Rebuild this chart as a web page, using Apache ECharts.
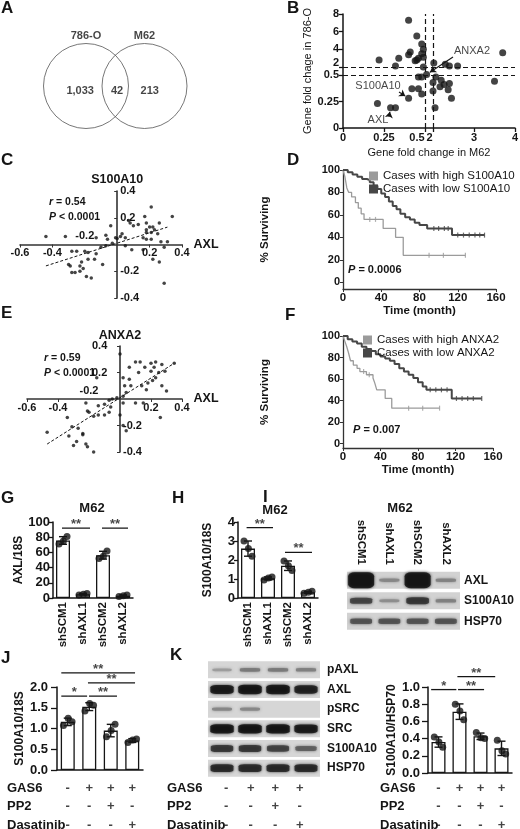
<!DOCTYPE html>
<html>
<head>
<meta charset="utf-8">
<script src="https://cdn.jsdelivr.net/npm/echarts@6.0.0/dist/echarts.min.js"></script>
<style>
html,body{margin:0;padding:0;background:#ffffff;}
#chart{width:520px;height:829px;}
</style>
</head>
<body>
<div id="chart"></div>
<script>
// ================= DATA =================
// A: Venn
const vennSets = ['786-O', 'M62'];
const vennCounts = [1033, 42, 213]; // 786-O only, both, M62 only

// B: fold changes of the shared genes
const bGenesM62 = [0.40,0.45,0.48,0.49,0.41,0.40,0.48,0.49,0.44,0.45,0.46,0.22,0.34,0.32,0.49,0.46,0.48,0.42,0.46,0.48,0.21,0.32,
                   2.02,2.3,2.4,2.6,3.7,3.5,2.07,2.0,2.2,2.27,2.4,2.17,2.37,2.0,2.45,2.05];
const bGenes786 = [7.3,5.5,4.6,4.0,3.7,3.4,3.5,3.1,2.7,2.8,3.0,2.8,3.0,2.1,2.0,0.48,0.48,0.37,0.37,0.32,0.23,0.19,
                   2.45,2.3,2.1,2.1,3.6,0.44,0.48,0.43,0.45,0.41,0.42,0.39,0.36,0.35,0.28,0.19];
const bLabeled = ['ANXA2','S100A10','AXL'];
const bLabeledM62 = [0.8, 0.40, 0.29];
const bLabeled786 = [0.6, 0.28, 0.19];
const bTickX = [0,0.25,0.5,2,3,4];
const bTickY = [0,0.25,0.5,2,4,6,8];
const bCutoffs = [0.5, 2];

// C: AXL vs S100A10
const axlC = [0.17,0.34,0.07,0.08,0.10,0.13,0.18,0.26,-0.04,0.20,0.22,0.23,0.18,0.18,0.21,0.25,0.16,0.18,0.21,0.31,
              0.27,0.03,0.05,0.02,-0.44,-0.32,-0.13,-0.07,-0.06,-0.01,0.00,-0.28,-0.25,-0.20,-0.18,-0.13,-0.10,-0.07,-0.03,-0.18,
              -0.14,-0.09,-0.22,-0.23,-0.21,-0.26,-0.28,-0.30,-0.29,-0.23,-0.19,-0.16,0.05,0.09,0.16,0.29,0.22,0.26,0.29,0.21];
const s100C = [0.21,0.21,0.18,0.16,0.14,0.15,0.16,0.16,0.14,0.13,0.13,0.11,0.11,0.09,0.09,0.08,0.05,0.04,0.04,0.02,
               0.02,0.08,0.05,0.06,0.06,0.06,0.05,0.07,0.04,0.05,0.045,-0.05,-0.05,-0.05,-0.06,-0.07,-0.02,-0.01,0.01,-0.11,
               -0.11,-0.15,-0.13,-0.16,-0.18,-0.21,-0.21,-0.15,-0.16,-0.20,-0.24,-0.25,-0.01,-0.04,-0.04,-0.02,-0.11,-0.13,-0.29,0.28];
const trendC = [[-0.44,-0.16],[0.31,0.13]];
const statC = {r: 0.54, p: '< 0.0001'};

// E: AXL vs ANXA2
const axlE = [0.00,0.10,0.13,0.20,0.23,0.27,0.16,0.22,0.20,0.25,0.29,0.06,0.12,0.02,0.06,0.03,0.07,0.14,0.18,0.17,
              0.27,0.30,0.23,0.21,0.04,0.02,-0.15,-0.07,-0.05,-0.02,0.35,
              -0.22,-0.14,-0.10,-0.06,0.02,0.10,0.15,-0.34,-0.21,-0.20,-0.17,-0.14,-0.10,-0.07,
              -0.31,-0.27,-0.24,-0.24,-0.33,-0.47,-0.28,-0.30,-0.22,-0.21,-0.17,0.00,0.02,0.04,0.26];
const anxa2E = [0.34,0.28,0.28,0.27,0.28,0.26,0.24,0.24,0.21,0.20,0.21,0.24,0.20,0.16,0.15,0.10,0.10,0.10,0.12,0.07,
                0.10,0.06,0.16,0.14,0.05,0.02,0.16,-0.01,0.00,0.01,0.27,
                -0.03,-0.05,-0.04,-0.06,-0.03,-0.03,-0.03,-0.14,-0.09,-0.10,-0.13,-0.12,-0.12,-0.10,
                -0.21,-0.22,-0.26,-0.27,-0.28,-0.25,-0.32,-0.35,-0.34,-0.36,-0.40,-0.12,-0.20,-0.24,-0.14];
const trendE = [[-0.47,-0.34],[0.35,0.27]];
const statE = {r: 0.59, p: '< 0.0001'};

// D: Kaplan-Meier, S100A10
const kmS100HighT = [0,2,3,4,6,9,13,16,19,22,42,55,63,128];
const kmS100HighS = [100,94,89,84,80,76,71,66,61,56,48,40,24,24];
const kmS100HighCens = [28,34,90,105,128];
const kmS100LowT = [0,5,10,15,20,25,28,32,36,40,44,48,52,56,60,65,70,75,80,88,114,148];
const kmS100LowS = [100,98,96,94,92,91,89,86,83,79,76,72,68,65,61,58,56,53,51,48,42,42];
const kmS100LowCens = [95,100,106,110,120,126,132,138,143,148];
const kmPD = '= 0.0006';

// F: Kaplan-Meier, ANXA2
const kmAnxHighT = [0,2,4,6,8,11,15,18,25,32,34,36,45,52,103];
const kmAnxHighS = [100,95,90,84,77,73,70,67,64,61,56,50,42,33,33];
const kmAnxHighCens = [22,28,70,85,103];
const kmAnxLowT = [0,5,10,15,20,25,30,35,40,45,50,55,60,65,70,75,80,85,89,116,148];
const kmAnxLowS = [100,97,95,93,90,88,86,83,81,79,77,74,70,67,64,61,57,53,50,42,42];
const kmAnxLowCens = [93,99,105,111,121,127,133,139,148];
const kmPF = '= 0.007';

// G, H: M62 knockdown qPCR
const shCats = ['shSCM1','shAXL1','shSCM2','shAXL2'];
const gAxlDots = [[71,75,81],[4,5,6],[52,55,62],[2,3,4]];
const gSig = [[-0.05,1.35,92,'**'],[1.95,3.25,92,'**']];
const hS100Dots = [[3.0,2.6,2.2],[0.95,1.05,1.1],[1.95,1.7,1.45],[0.25,0.3,0.35]];
const hSig = [[-0.07,1.25,3.7,'**'],[1.85,3.2,2.4,'**']];

// I: western blot band intensity (0-1)
const iRows = ['AXL','S100A10','HSP70'];
const iBands = [[1.0,0.3,1.0,0.32],[0.55,0.28,0.6,0.33],[0.5,0.5,0.5,0.5]];

// J, K: treatments
const treatRows = ['GAS6','PP2','Dasatinib'];
const treatGAS6 = [0,1,1,1];
const treatPP2 = [0,0,1,0];
const treatDasatinib = [0,0,0,1];
const jS100Dots = [[1.07,1.25,1.16],[1.42,1.6,1.56],[0.8,0.95,1.1],[0.66,0.72,0.75]];
const jSig = [[-0.3,3.13,2.34,'**'],[0.94,3.13,2.1,'**'],[-0.3,0.9,1.78,'*'],[0.99,2.29,1.78,'**']];
const kRows = ['pAXL','AXL','pSRC','SRC','S100A10','HSP70'];
const kBands = [[0.22,0.35,0.35,0.33],[0.7,0.72,0.72,0.68],[0.3,0.3,0,0],[0.72,0.72,0.72,0.7],[0.6,0.6,0.56,0.45],[0.65,0.65,0.65,0.65]];
const kRatioDots = [[0.42,0.36,0.30],[0.80,0.72,0.62],[0.47,0.41,0.40],[0.38,0.26,0.22]];
const kSig = [[-0.35,0.85,0.97,'*'],[0.93,2.17,0.97,'**'],[0.9,2.7,1.12,'**']];

// ================= BUILD =================
const FONT = 'Arial, "Liberation Sans", Helvetica, sans-serif';
const INK = '#151515';
const grid = [], xAxis = [], yAxis = [], series = [], graphic = [], legend = [];

function addGrid(l, t, w, h) {
  grid.push({left: l, top: t, width: w, height: h, containLabel: false, outerBoundsMode: 'none'});
  return grid.length - 1;
}
function push(arr, o) { arr.push(o); return arr.length - 1; }
const lbl = (size, weight) => ({fontFamily: FONT, fontSize: size, fontWeight: weight || 'bold', color: INK});
const line = (w) => ({color: INK, width: w || 1.3});

function txt(content, x, y, size, o) {
  o = o || {};
  graphic.push({type: 'text', x: x, y: y, z: 100, rotation: o.rot || 0, silent: true,
    style: {text: content, fontFamily: FONT, fontSize: size, fontWeight: o.weight || 'bold', fill: INK,
      align: o.align || 'left', verticalAlign: 'middle',
      rich: {i: {fontStyle: 'italic', fontWeight: 'bold', fontSize: size, fontFamily: FONT, fill: INK}}}});
}

// ---- panel letters & titles
[['A',1,8],['B',287,8],['C',1,160],['D',287,160],['E',1,313],['F',285,315],
 ['G',1,498],['H',172,498],['I',263,497],['J',1,658],['K',170,655]].forEach(a => txt(a[0], a[1], a[2], 17));
txt('M62', 92, 508, 13, {align: 'center'});
txt('M62', 275, 510, 13, {align: 'center'});
txt('M62', 400, 508, 13, {align: 'center'});

// ---- A: Venn
(function () {
  const gi = addGrid(86, 46, 58.5, 80);
  const xi = push(xAxis, {gridIndex: gi, type: 'value', min: 0, max: 1, show: false});
  const yi = push(yAxis, {gridIndex: gi, type: 'value', min: -1, max: 1, show: false});
  series.push({type: 'scatter', xAxisIndex: xi, yAxisIndex: yi, symbol: 'circle', symbolSize: 85, silent: true, clip: false,
    itemStyle: {color: 'rgba(0,0,0,0)', borderColor: '#555', borderWidth: 1},
    label: {show: true, position: 'top', distance: 2, formatter: p => p.data[2], ...lbl(11)},
    data: vennSets.map((s, i) => [i, 0, s])});
  const regionX = [-0.1, 0.53, 1.09];
  series.push({type: 'scatter', xAxisIndex: xi, yAxisIndex: yi, symbolSize: 0, silent: true, clip: false,
    label: {show: true, position: 'inside', formatter: p => p.data[2], ...lbl(11)},
    data: vennCounts.map((c, i) => [regionX[i], -0.12, c.toLocaleString('en-US')])});
})();

// ---- B: fold change scatter (broken axes)
const bx = v => v <= 0.5 ? v * 164 : (v >= 2 ? 90 + (v - 2) * 41 : 82 + (v - 0.5) / 1.5 * 8);
const by = v => v <= 0.5 ? v * 106 : (v >= 2 ? 61 + (v - 2) * 53 / 6 : 53 + (v - 0.5) / 1.5 * 8);
(function () {
  const gi = addGrid(343, 14, 172, 114);
  const tx = bTickX.map(bx), ty = bTickY.map(by);
  const fmt = (ticks, vals, rich) => v => {
    const i = ticks.findIndex(u => Math.abs(u - v) < 1e-6);
    if (i < 0) return '';
    const s = String(vals[i]);
    return rich[s] ? '{' + rich[s] + '|' + s + '}' : s;
  };
  const base = lbl(11);
  const xi = push(xAxis, {gridIndex: gi, type: 'value', min: 0, max: 172, splitLine: {show: false},
    axisLine: {show: true, onZero: false, lineStyle: line(1.5)},
    axisTick: {show: true, length: 4, customValues: tx, lineStyle: line(1.3)},
    axisLabel: {customValues: tx, margin: 4, ...base, formatter: fmt(tx, bTickX, {'0.5': 'a', '2': 'b'}),
      rich: {a: {...base, padding: [0, 16, 0, 0]}, b: {...base, padding: [0, 7, 0, 0]}}},
    name: 'Gene fold change in M62', nameLocation: 'middle', nameGap: 19, nameTextStyle: lbl(11, 'normal')});
  const yi = push(yAxis, {gridIndex: gi, type: 'value', min: 0, max: 114, splitLine: {show: false},
    axisLine: {show: true, onZero: false, lineStyle: line(1.5)},
    axisTick: {show: true, length: 4, customValues: ty, lineStyle: line(1.3)},
    axisLabel: {customValues: ty, margin: 4, ...base, formatter: fmt(ty, bTickY, {'2': 'b'}),
      rich: {b: {...base, padding: [0, 0, 8, 0]}}},
    name: 'Gene fold chage in 786-O', nameLocation: 'middle', nameRotate: 90, nameGap: 25, nameTextStyle: lbl(11, 'normal')});
  series.push({type: 'scatter', xAxisIndex: xi, yAxisIndex: yi, symbolSize: 7, itemStyle: {color: INK}, silent: true,
    data: bGenesM62.map((m, i) => [bx(m), by(bGenes786[i])]),
    markLine: {silent: true, symbol: 'none', animation: false, label: {show: false},
      lineStyle: {color: INK, width: 1.2, type: [5, 3]},
      data: bCutoffs.map(c => ({xAxis: bx(c)})).concat(bCutoffs.map(c => ({yAxis: by(c)})))}});
  // labelled genes with annotation arrows
  const labelPos = [[129, 77], [35, 42], [35, 8]];
  const arrowFrom = [[110, 71], [56, 36], [46, 11]];
  const pts = bLabeled.map((g, i) => [bx(bLabeledM62[i]), by(bLabeled786[i])]);
  series.push({type: 'scatter', xAxisIndex: xi, yAxisIndex: yi, symbolSize: 7, itemStyle: {color: INK}, silent: true,
    data: pts});
  series.push({type: 'scatter', xAxisIndex: xi, yAxisIndex: yi, symbolSize: 0, silent: true,
    label: {show: true, position: 'inside', formatter: p => p.data[2], ...lbl(11, 'normal')},
    data: bLabeled.map((g, i) => [labelPos[i][0], labelPos[i][1], g]),
    markLine: {silent: true, animation: false, symbol: ['none', 'arrow'], symbolSize: 6, label: {show: false},
      lineStyle: {color: INK, width: 1.1, type: 'solid'},
      data: pts.map((p, i) => {
        const f = arrowFrom[i];
        const dx = p[0] - f[0], dy = p[1] - f[1], d = Math.hypot(dx, dy);
        return [{coord: f}, {coord: [p[0] - dx / d * 4, p[1] - dy / d * 4]}];
      })}});
})();

// ---- C & E: correlation scatter panels (axes crossing at zero via offset)
function corrPanel(o) {
  const gi = addGrid(o.left, o.top, o.width, o.height);
  const base = lbl(11);
  const xMin = -0.6, xMax = 0.4, yMin = -0.4, yMax = 0.4;
  const offX = -(0 - yMin) / (yMax - yMin) * o.height;      // bottom axis moved up to y = 0
  const offXTop = -(yMax - 0) / (yMax - yMin) * o.height;   // top axis moved down to y = 0
  const offY = -(0 - xMin) / (xMax - xMin) * o.width;       // left axis moved right to x = 0
  const axisStyle = {color: '#333', width: 1.6};
  const xi = push(xAxis, {gridIndex: gi, type: 'value', min: xMin, max: xMax, offset: offX, splitLine: {show: false},
    axisLine: {show: true, onZero: false, lineStyle: axisStyle},
    axisTick: {show: true, length: 3, customValues: [-0.6, -0.4, 0.2, 0.4], lineStyle: {color: '#333'}},
    axisLabel: {customValues: [-0.6, -0.4, 0.2, 0.4], margin: 3, ...base, formatter: v => v.toFixed(1)},
    name: 'AXL', nameLocation: 'end', nameGap: 6, nameTextStyle: lbl(12.5)});
  push(xAxis, {gridIndex: gi, type: 'value', min: xMin, max: xMax, position: 'top', offset: offXTop, splitLine: {show: false},
    axisLine: {show: false, onZero: false}, axisTick: {show: false},
    axisLabel: {customValues: [-0.2], margin: 3, ...base, formatter: v => v.toFixed(1)}});
  const yi = push(yAxis, {gridIndex: gi, type: 'value', min: yMin, max: yMax, offset: offY, splitLine: {show: false},
    axisLine: {show: true, onZero: false, lineStyle: axisStyle},
    axisTick: {show: true, length: 3, customValues: [-0.4, -0.2, 0.2, 0.4], lineStyle: {color: '#333'}},
    axisLabel: {inside: true, customValues: o.posLeft ? [-0.4, -0.2] : [-0.4, -0.2, 0.2, 0.4], margin: 3, ...base,
      formatter: v => v.toFixed(1)},
    name: o.yName, nameLocation: 'end', nameGap: 4, nameTextStyle: {...lbl(12.5), align: 'center'}});
  if (o.posLeft) {
    push(yAxis, {gridIndex: gi, type: 'value', min: yMin, max: yMax, offset: offY, splitLine: {show: false},
      axisLine: {show: false, onZero: false}, axisTick: {show: false},
      axisLabel: {inside: false, customValues: [0.2, 0.4], margin: 3, ...base, formatter: v => v.toFixed(1)}});
  }
  series.push({type: 'scatter', xAxisIndex: xi, yAxisIndex: yi, symbolSize: 3.5, itemStyle: {color: INK}, silent: true,
    data: o.xs.map((x, i) => [x, o.ys[i]])});
  series.push({type: 'line', xAxisIndex: xi, yAxisIndex: yi, symbol: 'none', silent: true, clip: false,
    lineStyle: {color: INK, width: 1, type: [3, 2]}, data: o.trend});
  txt('{i|r} = ' + o.stat.r.toFixed(2), o.textX, o.textY, 10.5);
  txt('{i|P} ' + o.stat.p, o.textX, o.textY + 15, 10.5);
}
corrPanel({left: 20, top: 191, width: 162, height: 107, xs: axlC, ys: s100C, trend: trendC, yName: 'S100A10',
  stat: statC, textX: 49, textY: 202, posLeft: false});
corrPanel({left: 27, top: 346, width: 155, height: 106, xs: axlE, ys: anxa2E, trend: trendE, yName: 'ANXA2',
  stat: statE, textX: 44, textY: 358, posLeft: true});

// ---- D & F: Kaplan-Meier
function survAt(T, S, t) { let s = S[0]; for (let i = 0; i < T.length; i++) if (T[i] <= t) s = S[i]; return s; }
function kmPanel(o) {
  const gi = addGrid(o.left, o.top, o.width, o.height);
  const xt = [0, 40, 80, 120, 160], yt = [0, 20, 40, 60, 80, 100];
  const xi = push(xAxis, {gridIndex: gi, type: 'value', min: 0, max: 160, splitLine: {show: false},
    axisLine: {show: true, onZero: false, lineStyle: {color: '#333', width: 1.3}},
    axisTick: {show: true, length: 3, customValues: xt, lineStyle: {color: '#333'}},
    axisLabel: {customValues: xt, margin: 3, ...lbl(11.5)},
    name: 'Time (month)', nameLocation: 'middle', nameGap: 16, nameTextStyle: lbl(11.5)});
  const yi = push(yAxis, {gridIndex: gi, type: 'value', min: o.ymin, max: 100, splitLine: {show: false},
    axisLine: {show: true, onZero: false, lineStyle: {color: '#333', width: 1.3}},
    axisTick: {show: true, length: 3, customValues: yt, lineStyle: {color: '#333'}},
    axisLabel: {customValues: yt, margin: 3, ...lbl(11)},
    name: '% Surviving', nameLocation: 'middle', nameRotate: 90, nameGap: 72, nameTextStyle: lbl(11.5)});
  o.curves.forEach(c => {
    series.push({type: 'line', name: c.name, xAxisIndex: xi, yAxisIndex: yi, step: 'end', symbol: 'none', silent: true,
      color: c.color, itemStyle: {color: c.color}, lineStyle: {color: c.color, width: c.width},
      data: c.T.map((t, i) => [t, c.S[i]])});
    series.push({type: 'scatter', xAxisIndex: xi, yAxisIndex: yi, symbol: 'rect', symbolSize: [1.2, 5], silent: true,
      itemStyle: {color: c.color}, data: c.cens.map(t => [t, survAt(c.T, c.S, t)])});
  });
  legend.push({data: o.curves.map(c => c.name), left: o.legendX, top: o.legendY, orient: 'vertical', icon: 'rect',
    itemWidth: 9, itemHeight: 9, itemGap: 0, padding: 0, selectedMode: false,
    textStyle: {fontFamily: FONT, fontSize: 11.5, color: INK, lineHeight: 13}});
  txt('{i|P} ' + o.p, o.pX, o.pY, 11);
}
const LIGHT = '#9b9b9b', DARK = '#474747';
kmPanel({left: 343, top: 170, width: 153, height: 119, ymin: -6, legendX: 369, legendY: 169.5,
  p: kmPD, pX: 348, pY: 270,
  curves: [{name: 'Cases with high S100A10', T: kmS100HighT, S: kmS100HighS, cens: kmS100HighCens, color: LIGHT, width: 1.3},
           {name: 'Cases with low S100A10', T: kmS100LowT, S: kmS100LowS, cens: kmS100LowCens, color: DARK, width: 2}]});
kmPanel({left: 343, top: 336, width: 150, height: 112, ymin: -4, legendX: 363, legendY: 333.5,
  p: kmPF, pX: 353, pY: 430,
  curves: [{name: 'Cases with high ANXA2', T: kmAnxHighT, S: kmAnxHighS, cens: kmAnxHighCens, color: LIGHT, width: 1.3},
           {name: 'Cases with low ANXA2', T: kmAnxLowT, S: kmAnxLowS, cens: kmAnxLowCens, color: DARK, width: 2}]});

// ---- bar panels (G, H, J, K)
function barPanel(o) {
  const gi = addGrid(o.left, o.top, o.width, o.height);
  const xi = push(xAxis, {gridIndex: gi, type: 'value', min: -0.5, max: 3.5, splitLine: {show: false},
    axisLine: {show: true, onZero: false, lineStyle: line(1.5)}, axisTick: {show: false},
    axisLabel: o.cats ? {customValues: [0, 1, 2, 3], formatter: v => o.cats[Math.round(v)], rotate: 90, margin: 4, ...lbl(11.5)}
                      : {show: false}});
  const yi = push(yAxis, {gridIndex: gi, type: 'value', min: 0, max: o.max, interval: o.interval, splitLine: {show: false},
    axisLine: {show: true, onZero: false, lineStyle: line(1.5)},
    axisTick: {show: true, length: o.tick, lineStyle: line(1.3)},
    axisLabel: {margin: o.margin, ...lbl(13), formatter: o.fmt},
    name: o.yName, nameLocation: 'middle', nameRotate: 90, nameGap: o.nameGap, nameTextStyle: lbl(12)});
  const means = o.dots.map(d => d.reduce((a, b) => a + b, 0) / d.length);
  const sds = o.dots.map((d, i) => Math.sqrt(d.reduce((a, b) => a + (b - means[i]) * (b - means[i]), 0) / (d.length - 1)));
  series.push({type: 'bar', xAxisIndex: xi, yAxisIndex: yi, barWidth: 14, silent: true, z: 2,
    itemStyle: {color: '#ffffff', borderColor: INK, borderWidth: 1.3}, data: means.map((m, i) => [i, m])});
  series.push({type: 'custom', xAxisIndex: xi, yAxisIndex: yi, silent: true, z: 4,
    data: means.map((m, i) => [i, m - sds[i], m + sds[i]]),
    renderItem: (params, api) => {
      const lo = api.coord([api.value(0), api.value(1)]);
      const hi = api.coord([api.value(0), api.value(2)]);
      const st = {stroke: INK, lineWidth: 1.4};
      return {type: 'group', children: [
        {type: 'line', shape: {x1: lo[0], y1: lo[1], x2: hi[0], y2: hi[1]}, style: st},
        {type: 'line', shape: {x1: hi[0] - 4, y1: hi[1], x2: hi[0] + 4, y2: hi[1]}, style: st},
        {type: 'line', shape: {x1: lo[0] - 4, y1: lo[1], x2: lo[0] + 4, y2: lo[1]}, style: st}]};
    }});
  const jitter = [-0.2, 0.02, 0.2];
  series.push({type: 'scatter', xAxisIndex: xi, yAxisIndex: yi, symbolSize: 7, silent: true, z: 5, clip: false,
    itemStyle: {color: INK}, data: o.dots.flatMap((d, i) => d.map((v, j) => [i + jitter[j], v]))});
  o.sig.forEach(s => {
    series.push({type: 'line', xAxisIndex: xi, yAxisIndex: yi, symbol: 'none', silent: true, clip: false,
      lineStyle: {color: INK, width: 1.3}, data: [[s[0], s[2]], [s[1], s[2]]]});
  });
  series.push({type: 'scatter', xAxisIndex: xi, yAxisIndex: yi, symbolSize: 0, silent: true, clip: false,
    label: {show: true, position: 'top', distance: -3, formatter: p => p.data[2], ...lbl(13)},
    data: o.sig.map(s => [(s[0] + s[1]) / 2, s[2], s[3]])});
}
barPanel({left: 53, top: 522, width: 80, height: 76, max: 100, interval: 20, tick: 4, margin: 3,
  fmt: v => String(v), yName: 'AXL/18S', nameGap: 26, dots: gAxlDots, sig: gSig, cats: shCats});
barPanel({left: 238, top: 522, width: 80, height: 76, max: 4, interval: 1, tick: 4, margin: 3,
  fmt: v => String(v), yName: 'S100A10/18S', nameGap: 24, dots: hS100Dots, sig: hSig, cats: shCats});
barPanel({left: 57, top: 687, width: 86, height: 83, max: 2, interval: 0.5, tick: 6, margin: 9,
  fmt: v => v.toFixed(1), yName: 'S100A10/18S', nameGap: 31, dots: jS100Dots, sig: jSig, cats: null});
barPanel({left: 428, top: 687, width: 84, height: 86, max: 1, interval: 0.2, tick: 6, margin: 8,
  fmt: v => v.toFixed(1), yName: 'S100A10/HSP70', nameGap: 27, dots: kRatioDots, sig: kSig, cats: null});

// ---- blots (I, K)
const bandGray = i => Math.round(212 - 200 * Math.min(1, i * 1.4));
function blotPanel(o) {
  const gi = addGrid(o.left, o.top, o.width, o.height);
  const xv = push(xAxis, {gridIndex: gi, type: 'value', min: 0, max: 4, show: false});
  if (o.lanes) push(xAxis, {gridIndex: gi, type: 'category', position: 'top', data: o.lanes,
    axisLine: {show: false}, axisTick: {show: false}, splitLine: {show: false},
    axisLabel: {rotate: 90, margin: 5, interval: 0, ...lbl(11.5)}});
  const yi = push(yAxis, {gridIndex: gi, type: 'category', inverse: true, position: 'right', data: o.rows,
    axisLine: {show: false}, axisTick: {show: false}, splitLine: {show: false},
    axisLabel: {margin: o.labelGap, align: 'left', interval: 0, ...lbl(12)}});
  series.push({type: 'bar', xAxisIndex: xv, yAxisIndex: yi, barWidth: o.stripH, silent: true, z: 1,
    itemStyle: {color: o.bg}, data: o.rows.map(() => 4)});
  const lw = o.width / 4;
  const pts = [];
  o.bands.forEach((row, r) => row.forEach((v, l) => {
    if (v <= 0) return;
    const g = bandGray(v), c = 'rgb(' + g + ',' + g + ',' + g + ')';
    pts.push({value: [l + 0.5, r, v], symbolSize: [lw * (0.62 + 0.3 * v), 2 + 14 * v * v],
      itemStyle: {color: c, shadowColor: c, shadowBlur: 3}});
  }));
  series.push({type: 'scatter', xAxisIndex: xv, yAxisIndex: yi, symbol: 'roundRect', silent: true, z: 3, data: pts});
}
blotPanel({left: 347, top: 570, width: 113, height: 61.5, rows: iRows, bands: iBands, lanes: shCats,
  stripH: 17, bg: '#d2d2d2', labelGap: 4});
blotPanel({left: 208, top: 660, width: 112, height: 118, rows: kRows, bands: kBands, lanes: null,
  stripH: 17, bg: '#d6d6d6', labelGap: 7});

// ---- treatment tables
function treatTable(o) {
  const gi = addGrid(o.left, 779, o.width, 55.5);
  const xi = push(xAxis, {gridIndex: gi, type: 'category', data: [0, 1, 2, 3], show: false});
  const yi = push(yAxis, {gridIndex: gi, type: 'category', inverse: true, data: treatRows,
    axisLine: {show: false}, axisTick: {show: false}, splitLine: {show: false},
    axisLabel: {align: 'left', margin: o.left - o.nameX, interval: 0, ...lbl(13)}});
  const table = [treatGAS6, treatPP2, treatDasatinib];
  series.push({type: 'scatter', xAxisIndex: xi, yAxisIndex: yi, symbolSize: 0, silent: true,
    label: {show: true, position: 'inside', formatter: p => p.data[2] ? '+' : '-', ...lbl(13)},
    data: table.flatMap((row, r) => row.map((v, l) => [l, r, v]))});
}
treatTable({left: 57, width: 86, nameX: 7});
treatTable({left: 214, width: 98, nameX: 167});
treatTable({left: 428, width: 84, nameX: 380});

const chart = echarts.init(document.getElementById('chart'), null, {renderer: 'canvas'});
chart.setOption({
  backgroundColor: '#ffffff',
  animation: false,
  textStyle: {fontFamily: FONT},
  grid: grid, xAxis: xAxis, yAxis: yAxis, series: series, legend: legend, graphic: graphic
});
</script>
</body>
</html>
